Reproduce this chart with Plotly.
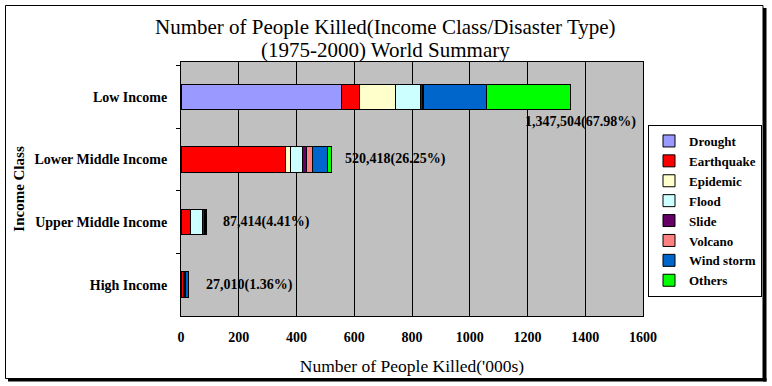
import plotly.graph_objects as go

categories = ["Low Income", "Lower Middle Income", "Upper Middle Income", "High Income"]
disaster_types = ["Drought", "Earthquake", "Epidemic", "Flood", "Slide", "Volcano", "Wind storm", "Others"]

# values in thousands of people killed, per income class (same order as categories)
drought = [557.0, 0.0, 0.0, 0.0]
earthquake = [60.0, 361.0, 33.5, 8.0]
epidemic = [127.0, 17.0, 0.5, 0.5]
flood = [84.0, 42.0, 41.5, 4.0]
slide = [10.0, 14.0, 6.0, 3.0]
volcano = [2.0, 21.0, 0.5, 0.5]
wind_storm = [218.0, 51.0, 4.0, 9.0]
others = [289.5, 14.4, 1.4, 2.0]

totals = [1347504, 520418, 87414, 27010]
x_ticks = [0, 200, 400, 600, 800, 1000, 1200, 1400, 1600]
title_lines = ["Number of People Killed(Income Class/Disaster Type)", "(1975-2000) World Summary"]

series = [drought, earthquake, epidemic, flood, slide, volcano, wind_storm, others]
colors = ["#9999FF", "#FF0000", "#FFFFCC", "#CCFFFF", "#660066", "#FF8080", "#0066CC", "#00FF00"]

W, H = 772, 386
L, R, T, B = 181, 643, 62, 316
FONT = "Liberation Serif"

fig = go.Figure()
for name, vals, col in zip(disaster_types, series, colors):
    fig.add_trace(go.Bar(
        y=categories, x=vals, name=name, orientation="h",
        marker=dict(color=col, line=dict(color="black", width=1)),
        legendgroup=name,
    ))

grand = sum(totals)
label_shifts = [(-47, -25), (12, 1), (15, 0), (15, 0)]
for cat, tot, (dx, dy) in zip(categories, totals, label_shifts):
    fig.add_annotation(
        x=tot / 1000.0, y=cat, xref="x", yref="y",
        text=f"{tot:,}({tot / grand * 100:.2f}%)",
        showarrow=False, xanchor="left", yanchor="middle",
        xshift=dx, yshift=dy,
        font=dict(family=FONT, size=14, color="black", weight="bold"),
    )

def px_x(p):
    return (p - L) / (R - L)

def px_y(p):
    return (B - p) / (B - T)

for line, ypx in zip(title_lines, [27, 50]):
    fig.add_annotation(
        x=px_x(385), y=px_y(ypx), xref="paper", yref="paper",
        text=line, showarrow=False, xanchor="center", yanchor="middle",
        font=dict(family=FONT, size=21, color="black"),
    )

shapes = [
    dict(type="rect", xref="paper", yref="paper",
         x0=px_x(763), x1=px_x(766.5), y0=px_y(8), y1=px_y(381.5),
         fillcolor="black", line=dict(width=0), layer="below"),
    dict(type="rect", xref="paper", yref="paper",
         x0=px_x(8), x1=px_x(766.5), y0=px_y(378), y1=px_y(381.5),
         fillcolor="black", line=dict(width=0), layer="below"),
    dict(type="rect", xref="paper", yref="paper",
         x0=px_x(5.5), x1=px_x(763), y0=px_y(5.5), y1=px_y(378.5),
         fillcolor="rgba(0,0,0,0)", line=dict(color="black", width=1), layer="below"),
]

fig.update_layout(
    width=W, height=H,
    margin=dict(l=L, r=W - R, t=T, b=H - B, pad=0, autoexpand=False),
    paper_bgcolor="white", plot_bgcolor="#C0C0C0",
    barmode="stack", bargap=0.59,
    font=dict(family=FONT, color="black"),
    xaxis=dict(
        range=[0, 1600], tickvals=x_ticks, ticktext=[str(v) for v in x_ticks],
        showgrid=True, gridcolor="black", gridwidth=1,
        showline=True, linecolor="black", linewidth=1, mirror=True,
        ticks="", zeroline=False, ticklabelstandoff=8, automargin=False,
        tickfont=dict(family=FONT, size=14, weight="bold"),
        title=dict(text="Number of People Killed('000s)", standoff=15,
                   font=dict(family=FONT, size=17.5)),
        fixedrange=True,
    ),
    yaxis=dict(
        categoryorder="array", categoryarray=categories, autorange="reversed",
        showgrid=False, showline=True, linecolor="black", linewidth=1, mirror=True,
        ticks="outside", tickson="boundaries", ticklen=4, tickcolor="black",
        ticklabelstandoff=10, automargin=False,
        tickfont=dict(family=FONT, size=14, weight="bold"),
        title=dict(text="Income Class", standoff=6,
                   font=dict(family=FONT, size=15, weight="bold")),
        fixedrange=True,
    ),
    legend=dict(
        x=px_x(762), xanchor="right", y=px_y(125), yanchor="top",
        bgcolor="white", bordercolor="black", borderwidth=1,
        traceorder="normal", tracegroupgap=4.5,
        font=dict(family=FONT, size=13, weight="bold"),
        itemwidth=30,
    ),
    shapes=shapes,
)

fig.write_html(
    "out.html",
    config={"displayModeBar": False},
    post_script="document.body.style.margin='0';document.body.style.overflow='hidden';",
)
